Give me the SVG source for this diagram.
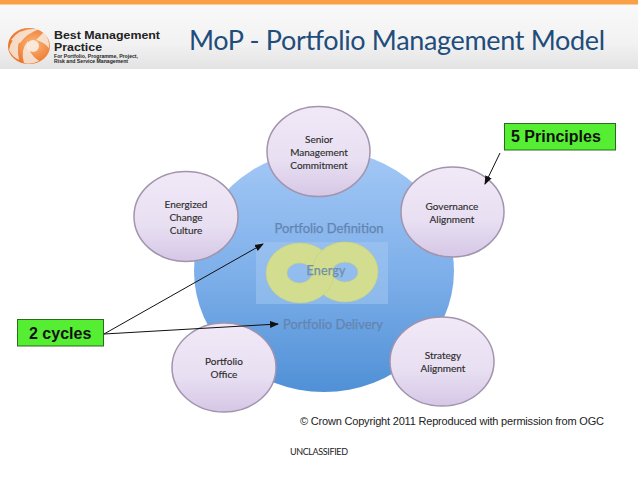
<svg xmlns="http://www.w3.org/2000/svg" width="638" height="478" viewBox="0 0 638 478">
<defs>
<linearGradient id="hdr" x1="0" y1="0" x2="0" y2="1"><stop offset="0" stop-color="#f9f9f9"/><stop offset="0.6" stop-color="#f2f2f2"/><stop offset="1" stop-color="#e3e3e3"/></linearGradient>
<linearGradient id="big" x1="0" y1="0" x2="0" y2="1"><stop offset="0" stop-color="#a3c8f6"/><stop offset="0.5" stop-color="#7fb0ea"/><stop offset="1" stop-color="#5090d6"/></linearGradient>
<linearGradient id="pur" x1="0" y1="0" x2="0" y2="1"><stop offset="0" stop-color="#f1e9f7"/><stop offset="0.6" stop-color="#e8dff2"/><stop offset="1" stop-color="#d5c7e6"/></linearGradient>
<radialGradient id="org" cx="0.6" cy="0.45" r="0.7"><stop offset="0" stop-color="#fbb77a"/><stop offset="1" stop-color="#e8661a"/></radialGradient>
<marker id="arr" markerWidth="9" markerHeight="8" refX="8" refY="4" orient="auto" markerUnits="userSpaceOnUse"><path d="M0 0.5L9 4L0 7.5z" fill="#111"/></marker>
<clipPath id="topHalf"><rect x="300" y="230" width="90" height="42"/></clipPath>
<path id="ringL" fill-rule="evenodd" d="M266 273a34 30 0 1 0 68 0a34 30 0 1 0-68 0zM287 273a12.500 10 0 1 1 25 0a12.500 10 0 1 1-25 0z"/>
<path id="ringR" fill-rule="evenodd" d="M312 272a33 30 0 1 0 66 0a33 30 0 1 0-66 0zM332 272a13 10 0 1 1 26 0a13 10 0 1 1-26 0z"/>
</defs>
<style>
.node{fill:url(#pur);stroke:#a394ad;stroke-width:1.5}
.nt{font-family:"Lato","Open Sans",sans-serif;font-size:10px;fill:#2e2e2e;stroke:#2e2e2e;stroke-width:0.15;text-anchor:middle}
.inner{font-family:"Lato","Open Sans",sans-serif;font-size:13px;fill:#6485b0;stroke:#6485b0;stroke-width:0.25;text-anchor:middle}
.call{fill:#55ee33;stroke:#2b6b1f;stroke-width:1}
.callt{font-family:"Liberation Sans",Arial,sans-serif;font-size:16px;font-weight:bold;fill:#111}
.conn{stroke:#111;stroke-width:1;fill:none}
.ring{fill:#d3dd8f;stroke:#c3cf86;stroke-width:0.6}
.lg{font-family:"Liberation Sans",Arial,sans-serif;font-weight:bold;fill:#222}
</style>
<rect width="638" height="478" fill="#fff"/>
<g id="header">
<rect y="4" width="638" height="65" fill="url(#hdr)"/>
<rect width="638" height="4.500" fill="#f9a046"/>
<g id="logo">
<ellipse cx="29" cy="46" rx="21" ry="18" fill="url(#org)"/>
<path d="M11 40Q20 27 40 29Q27 33 20 43Z M9 50Q11 38 21 36Q16 46 19 60Q12 57 9 50Z M24 63Q20 50 28 41Q27 53 39 61Q31 65 24 63Z M44 32Q50 40 49 48Q44 42 36 40Z" fill="#f6f1ea" opacity="0.8"/>
<circle cx="33" cy="46" r="6" fill="#f9f3ec" opacity="0.85"/>
<text class="lg" x="54" y="38.500" font-size="11" textLength="106" lengthAdjust="spacingAndGlyphs">Best Management</text>
<text class="lg" x="54" y="51" font-size="11" textLength="48" lengthAdjust="spacingAndGlyphs">Practice</text>
<text class="lg" x="54" y="58" font-size="4.500" textLength="84" lengthAdjust="spacingAndGlyphs">For Portfolio, Programme, Project,</text>
<text class="lg" x="54" y="63.200" font-size="4.500" textLength="74" lengthAdjust="spacingAndGlyphs">Risk and Service Management</text>
</g>
<text x="189" y="50" font-family="Lato,'Open Sans',sans-serif" font-size="27" fill="#1f4d7c" textLength="416">MoP - Portfolio Management Model</text>
</g>
<g id="core">
<ellipse cx="324" cy="271" rx="130" ry="121" fill="url(#big)"/>
<rect x="256" y="242" width="132" height="62" fill="#a6c9f2" opacity="0.5"/>
<use href="#ringR" class="ring"/>
<use href="#ringL" class="ring"/>
<use href="#ringR" class="ring" clip-path="url(#topHalf)"/>
<text class="inner" x="329" y="233" textLength="109">Portfolio Definition</text>
<text class="inner" x="326" y="275" style="font-size:12.500px;fill:#6f8fa5;stroke:#6f8fa5" textLength="39">Energy</text>
<text class="inner" x="333" y="329" textLength="100">Portfolio Delivery</text>
</g>
<g id="senior"><ellipse class="node" cx="318.500" cy="151.500" rx="51.500" ry="45"/><text class="nt" x="319" y="143">Senior</text><text class="nt" x="319" y="156">Management</text><text class="nt" x="319" y="169">Commitment</text></g>
<g id="energized"><ellipse class="node" cx="186" cy="216.500" rx="52" ry="45"/><text class="nt" x="186" y="208">Energized</text><text class="nt" x="186" y="221">Change</text><text class="nt" x="186" y="234">Culture</text></g>
<g id="governance"><ellipse class="node" cx="452.500" cy="212" rx="51.500" ry="45"/><text class="nt" x="452" y="210">Governance</text><text class="nt" x="452" y="223">Alignment</text></g>
<g id="office"><ellipse class="node" cx="224" cy="367.500" rx="52" ry="44.500"/><text class="nt" x="224" y="365">Portfolio</text><text class="nt" x="224" y="378">Office</text></g>
<g id="strategy"><ellipse class="node" cx="442" cy="361.500" rx="52" ry="44.500"/><text class="nt" x="443" y="359">Strategy</text><text class="nt" x="443" y="372">Alignment</text></g>
<g id="connectors">
<line class="conn" x1="104" y1="334" x2="263" y2="244" marker-end="url(#arr)"/>
<line class="conn" x1="104" y1="334" x2="278" y2="324" marker-end="url(#arr)"/>
<line class="conn" x1="500" y1="153" x2="485" y2="184" marker-end="url(#arr)"/>
</g>
<g id="cycles"><rect class="call" x="17.500" y="319.500" width="86" height="26.500"/><text class="callt" x="29" y="339">2 cycles</text></g>
<g id="principles"><rect class="call" x="504.500" y="123.500" width="111" height="26.500"/><text class="callt" x="511" y="142">5 Principles</text></g>
<text x="300" y="425" font-family="'Liberation Sans',Arial,sans-serif" font-size="11" fill="#222" textLength="304">© Crown Copyright 2011 Reproduced with permission from OGC</text>
<text x="290" y="455" font-family="Lato,'Open Sans',sans-serif" font-size="9" fill="#222" textLength="58">UNCLASSIFIED</text>
</svg>
